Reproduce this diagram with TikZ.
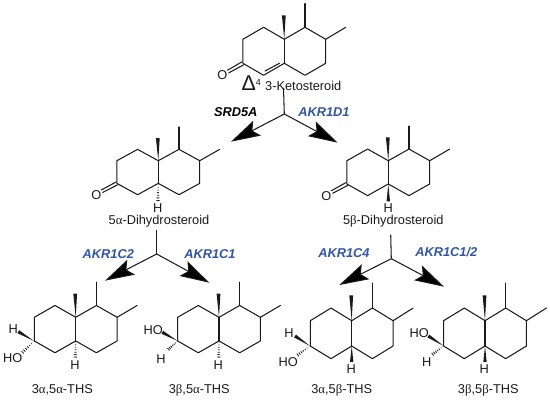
\documentclass[tikz,border=0pt]{standalone}
\usepackage{fontspec}
\setmainfont{Liberation Sans}
\newfontfamily\gk{Liberation Serif}
\usetikzlibrary{arrows.meta,calc}
\definecolor{enzblue}{RGB}{48,86,164}
\definecolor{ink}{RGB}{26,26,26}
\newcommand{\gal}{{\gk α}}
\newcommand{\gbe}{{\gk β}}
\tikzset{
  bond/.style={draw=ink,line width=0.78pt,line join=round,line cap=round},
  lbl/.style={inner sep=0pt,text=ink,font=\fontsize{9.6}{11}\selectfont},
  atom/.style={inner sep=0pt,text=ink,font=\fontsize{9.6}{11}\selectfont},
  enz/.style={inner sep=0pt,text=enzblue,font=\fontsize{9.6}{11}\selectfont\bfseries\itshape},
  enzk/.style={enz,text=black},
  flow/.style={draw=ink,line width=0.78pt,-{Stealth[length=22pt,width=12.5pt,inset=4pt,fill=black]}},
  stem/.style={draw=ink,line width=0.78pt},
}
% skeleton: x y of upper ring-fusion atom, vertical scale
\newcommand{\skel}[3]{%
\begin{scope}[shift={(#1,#2)},yscale=#3]
  \draw[bond] (0,0) -- (-20.7,-12) -- (-41.4,0) -- (-41.4,24) -- (-20.7,36) -- (0,24) -- (20.7,36) -- (41.4,24) -- (41.4,0) -- (20.7,-12) -- cycle;
  \draw[bond] (0,0) -- (0,24);
  \draw[bond] (20.7,-12) -- (20.7,-35.7);
  \draw[bond] (41.4,0) -- (61.4,-12);
  \fill[ink] (0,0) -- (-2.4,-24) -- (1.4,-24) -- cycle;
\end{scope}}
\newcommand{\ketone}[3]{%
\begin{scope}[shift={(#1,#2)},yscale=#3]
  \draw[bond] (-41.4,24) ++(0.8,1.5) -- (-55.6,33.6);
  \draw[bond] (-41.4,24) ++(-0.8,-1.5) -- (-57,31);
  \node[atom] at (-62,36) {O};
\end{scope}}
% hashed wedge from narrow end #1 to wide end #2
\newcommand{\hashw}[2]{%
  \foreach \t/\w in {0.08/0.15,0.22/0.4,0.36/0.65,0.5/0.9,0.64/1.15,0.78/1.4,0.92/1.65}{
    \draw[ink,line width=0.6pt] ($(#1)!\t!(#2)!\w*0.75pt!90:(#2)$) -- ($(#1)!\t!(#2)!\w*0.75pt!-90:(#2)$);
  }}
% solid wedge from narrow end #1 to wide end #2
\newcommand{\solidw}[2]{%
  \fill[ink] (#1) -- ($(#2)!1.7*0.75pt!90:(#1)$) -- ($(#2)!1.7*0.75pt!-90:(#1)$) -- cycle;}
\begin{document}
\begin{tikzpicture}[x=0.75pt,y=-0.75pt]
\useasboundingbox (0,0) rectangle (550,402);
\fill[white] (0,0) rectangle (550,402);

%% molecule 1
\skel{284.3}{39.3}{1}
\ketone{284.3}{39.3}{1}
\draw[bond] (265,71) -- (279.5,63.3);
\node[lbl,anchor=base] (m1) at (291.5,90.5) {{\fontsize{16}{16}\selectfont Δ}\textsuperscript{4} 3-Ketosteroid};

%% molecule 2
\skel{158.3}{160.7}{0.945}
\ketone{158.3}{160.7}{0.945}
\coordinate (m2b) at (158.3,183.3);
\node[atom] (m2h) at (157.7,208.3) {H};
\coordinate (m2e) at (157.9,202);
\hashw{m2b}{m2e}
\node[lbl] (m2) at (159,221) {5\gal-Dihydrosteroid};

%% molecule 3
\skel{388.3}{160.7}{0.97}
\ketone{388.3}{160.7}{0.97}
\coordinate (m3b) at (388.3,184);
\coordinate (m3e) at (388.3,201.5);
\solidw{m3b}{m3e}
\node[atom] (m3h) at (388.3,208) {H};
\node[lbl] (m3) at (393.3,221) {5\gbe-Dihydrosteroid};

%% molecule 4
\skel{75.7}{317.3}{0.985}
\coordinate (m4b) at (75.7,341);
\coordinate (m4e) at (75.3,358.5);
\hashw{m4b}{m4e}
\node[atom] (m4h) at (75,365) {H};
\coordinate (m4c) at (34,341);
\coordinate (m4w) at (18.3,331.7);
\solidw{m4c}{m4w}
\node[atom] (m4h2) at (13.3,329.3) {H};
\coordinate (m4x) at (21.7,353.3);
\hashw{m4c}{m4x}
\node[atom] (m4o) at (12.7,358.3) {HO};
\node[lbl] (m4) at (62.3,390) {3\gal,5\gal-THS};

%% molecule 5
\skel{219}{317.3}{0.985}
\coordinate (m5b) at (219,341);
\coordinate (m5e) at (218.6,358.5);
\hashw{m5b}{m5e}
\node[atom] (m5h) at (218.3,365.5) {H};
\coordinate (m5c) at (177.7,341);
\coordinate (m5w) at (162.3,332.3);
\solidw{m5c}{m5w}
\node[atom] (m5o) at (153.3,330) {HO};
\coordinate (m5x) at (167.7,350);
\hashw{m5c}{m5x}
\node[atom] (m5h2) at (161,359) {H};
\node[lbl] (m5) at (199.3,390) {3\gbe,5\gal-THS};

%% molecule 6
\skel{351.7}{320.7}{1.055}
\coordinate (m6b) at (351.7,346);
\coordinate (m6e) at (351.7,362);
\solidw{m6b}{m6e}
\node[atom] (m6h) at (351.3,368.7) {H};
\coordinate (m6c) at (310,346);
\coordinate (m6w) at (295,336);
\solidw{m6c}{m6w}
\node[atom] (m6h2) at (289,333.3) {H};
\coordinate (m6x) at (296.7,355.7);
\hashw{m6c}{m6x}
\node[atom] (m6o) at (288.3,361.7) {HO};
\node[lbl] (m6) at (341.7,390) {3\gal,5\gbe-THS};

%% molecule 7
\skel{485}{320.7}{1.055}
\coordinate (m7b) at (485,346);
\coordinate (m7e) at (485,362);
\solidw{m7b}{m7e}
\node[atom] (m7h) at (484.3,368.7) {H};
\coordinate (m7c) at (443.7,346);
\coordinate (m7w) at (428.3,336);
\solidw{m7c}{m7w}
\node[atom] (m7o) at (419.3,333.3) {HO};
\coordinate (m7x) at (431.7,355);
\hashw{m7c}{m7x}
\node[atom] (m7h2) at (426.7,362.3) {H};
\node[lbl] (m7) at (488.3,390) {3\gbe,5\gbe-THS};

%% reaction branches
\coordinate (s1) at (283.5,88);
\coordinate (b1) at (284.3,114);
\coordinate (t1l) at (231,141.7);
\coordinate (t1r) at (337.7,142.7);
\draw[stem] (s1) -- (b1);
\draw[flow] (b1) -- (t1l);
\draw[flow] (b1) -- (t1r);
\node[enzk] (e1) at (235.7,112.3) {SRD5A};
\node[enz] (e2) at (324,111.7) {AKR1D1};

\coordinate (s2) at (156.7,230);
\coordinate (b2) at (156.7,254);
\coordinate (t2l) at (105,280.7);
\coordinate (t2r) at (209.3,282.7);
\draw[stem] (s2) -- (b2);
\draw[flow] (b2) -- (t2l);
\draw[flow] (b2) -- (t2r);
\node[enz] (e3) at (108.3,254) {AKR1C2};
\node[enz] (e4) at (210,254) {AKR1C1};

\coordinate (s3) at (390.7,234.7);
\coordinate (b3) at (391.3,258.7);
\coordinate (t3l) at (339.3,285);
\coordinate (t3r) at (444,286.7);
\draw[stem] (s3) -- (b3);
\draw[flow] (b3) -- (t3l);
\draw[flow] (b3) -- (t3r);
\node[enz] (e5) at (344,252.7) {AKR1C4};
\node[enz] (e6) at (446.3,251.7) {AKR1C1/2};
\end{tikzpicture}
\end{document}
